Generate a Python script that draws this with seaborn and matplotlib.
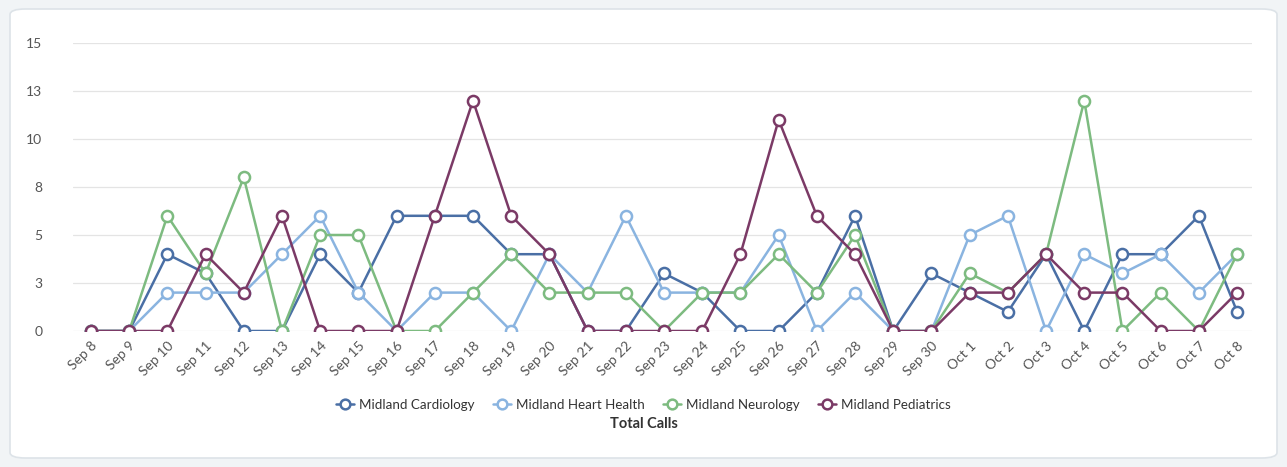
import pandas as pd
import seaborn as sns
from matplotlib import pyplot as plt
from matplotlib.patches import FancyBboxPatch
from matplotlib.lines import Line2D

# dates on the x axis
days = ['Sep 8', 'Sep 9', 'Sep 10', 'Sep 11', 'Sep 12', 'Sep 13', 'Sep 14', 'Sep 15',
        'Sep 16', 'Sep 17', 'Sep 18', 'Sep 19', 'Sep 20', 'Sep 21', 'Sep 22', 'Sep 23',
        'Sep 24', 'Sep 25', 'Sep 26', 'Sep 27', 'Sep 28', 'Sep 29', 'Sep 30', 'Oct 1',
        'Oct 2', 'Oct 3', 'Oct 4', 'Oct 5', 'Oct 6', 'Oct 7', 'Oct 8']

# calls per location
cardiology = [0, 0, 4, 3, 0, 0, 4, 2, 6, 6, 6, 4, 4, 0, 0, 3, 2, 0, 0, 2, 6, 0, 3, 2, 1, 4, 0, 4, 4, 6, 1]
heart_health = [0, 0, 2, 2, 2, 4, 6, 2, 0, 2, 2, 0, 4, 2, 6, 2, 2, 2, 5, 0, 2, 0, 0, 5, 6, 0, 4, 3, 4, 2, 4]
neurology = [0, 0, 6, 3, 8, 0, 5, 5, 0, 0, 2, 4, 2, 2, 2, 0, 2, 2, 4, 2, 5, 0, 0, 3, 2, 4, 12, 0, 2, 0, 4]
pediatrics = [0, 0, 0, 4, 2, 6, 0, 0, 0, 6, 12, 6, 4, 0, 0, 0, 0, 4, 11, 6, 4, 0, 0, 2, 2, 4, 2, 2, 0, 0, 2]

names = ['Midland Cardiology', 'Midland Heart Health', 'Midland Neurology', 'Midland Pediatrics']
colors = ['#4a6fa5', '#8ab4e0', '#7dbb80', '#7b3a66']

y_ticks = [0, 2.5, 5, 7.5, 10, 12.5, 15]
y_labels = ['0', '3', '5', '8', '10', '13', '15']

# build long form table
frames = []
for name, vals in zip(names, [cardiology, heart_health, neurology, pediatrics]):
    frames.append(pd.DataFrame({'idx': range(len(days)), 'calls': vals, 'location': name}))
df = pd.concat(frames, ignore_index=True)

sns.set_style('white')
plt.rcParams['font.family'] = ['Lato', 'DejaVu Sans']

fig = plt.figure(figsize=(12.87, 4.67), dpi=100)
fig.patch.set_facecolor('#f1f4f6')

# white card behind the chart
card = FancyBboxPatch((10 / 1287, 9 / 467), 1267 / 1287, 449 / 467,
                      boxstyle='round,pad=0,rounding_size=0.012',
                      transform=fig.transFigure, facecolor='white',
                      edgecolor='#dde3e8', linewidth=1.2, zorder=-5)
fig.patches.append(card)

ax = fig.add_axes([73 / 1287, 136 / 467, 1179 / 1287, 288 / 467])
ax.set_zorder(2)
ax.set_facecolor('none')

sns.lineplot(data=df, x='idx', y='calls', hue='location', hue_order=names,
             palette=dict(zip(names, colors)), marker='o', markersize=8,
             markerfacecolor='white', markeredgewidth=1.8, linewidth=1.8,
             legend=False, ax=ax, zorder=3)
# open circle markers take the line colour
for line in ax.lines:
    line.set_markeredgecolor(line.get_color())
    line.set_markerfacecolor('white')

ax.set_xlim(-0.47, 30.39)
ax.set_ylim(0, 15)
ax.set_yticks(y_ticks)
ax.set_yticklabels(y_labels)
ax.set_xticks(range(len(days)))
ax.set_xticklabels(days, rotation=45, ha='right', rotation_mode='anchor')
ax.tick_params(axis='both', length=0, labelsize=10, colors='#555555')
ax.tick_params(axis='x', pad=6)
ax.tick_params(axis='y', pad=22)
ax.grid(axis='y', color='#e4e4e4', linewidth=0.9)
ax.set_axisbelow(True)
ax.set_xlabel('')
ax.set_ylabel('')
sns.despine(ax=ax, left=True, bottom=True)

handles = [Line2D([0], [0], color=c, marker='o', markersize=7, markerfacecolor='white',
                  markeredgecolor=c, markeredgewidth=1.8, linewidth=1.8) for c in colors]
leg = fig.legend(handles, names, loc='center', bbox_to_anchor=(0.5, 62 / 467), ncol=4,
                 frameon=False, fontsize=9.6, handlelength=1.3, handletextpad=0.4,
                 columnspacing=1.4, labelcolor='#333333')
leg.set_zorder(3)
fig.text(0.5, 43 / 467, 'Total Calls', ha='center', va='center', fontsize=10.5,
         fontweight='bold', color='#333333')

fig.savefig('out.png', dpi=100, facecolor=fig.get_facecolor())
